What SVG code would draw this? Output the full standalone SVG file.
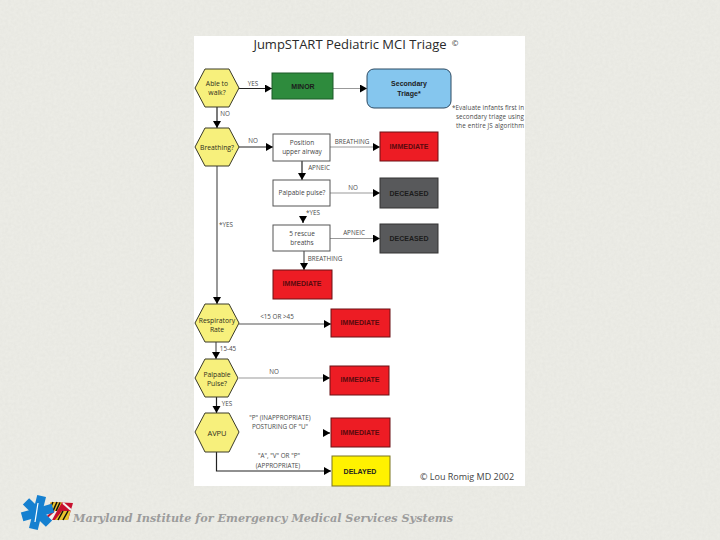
<svg xmlns="http://www.w3.org/2000/svg" width="720" height="540" viewBox="0 0 720 540">
<style>
text{font-family:"Open Sans","Liberation Sans",sans-serif;text-anchor:middle;fill:#333}
.hex{fill:#f7f07c;stroke:#3a3a28;stroke-width:1}
.hl{font-size:6.800px;fill:#2e2e20}
.box{fill:#fff;stroke:#555;stroke-width:1}
.bl{font-size:6.500px;fill:#444}
.lab{font-size:6.300px;fill:#4a4a4a}
.st{font-size:7px;font-weight:700;fill:#1c1c1c;font-family:"Liberation Sans",sans-serif}
.red{fill:#ed1c24;stroke:#6b1015;stroke-width:1}
.red+text{fill:#5a0a0e}
.gray{fill:#58595b;stroke:#333;stroke-width:1}
.c{fill:none;stroke:#555;stroke-width:1.200;marker-end:url(#a)}
.d{fill:none;stroke:#999;stroke-width:1;marker-end:url(#a)}
.k{fill:none;stroke:#222;stroke-width:1.200;marker-end:url(#a)}
</style>
<defs>
<marker id="a" markerUnits="userSpaceOnUse" markerWidth="9" markerHeight="9" refX="7" refY="4" orient="auto"><path d="M0 0L7 4L0 8Z" fill="#000"/></marker>
<filter id="tex" x="0" y="0" width="100%" height="100%"><feTurbulence type="fractalNoise" baseFrequency="0.35" numOctaves="2" seed="4"/><feColorMatrix values="0 0 0 0 0.6 0 0 0 0 0.6 0 0 0 0 0.56 0.5 0 0 0 -0.12"/></filter>
</defs>
<rect width="720" height="540" fill="#ecece6"/>
<rect width="720" height="540" filter="url(#tex)" opacity="0.5"/>
<rect x="194" y="36" width="331" height="450" fill="#fff"/>
<text x="350" y="49" style="font-size:13px;fill:#2a2a2a">JumpSTART Pediatric MCI Triage</text>
<text x="455" y="46" style="font-size:8px;fill:#2a2a2a">©</text>

<g id="connectors">
<path class="k" d="M239 88.500H272"/>
<path class="d" d="M333 88.500H367"/>
<path class="k" d="M217 107V128"/>
<path class="k" d="M239 147H273"/>
<path class="d" d="M330 147H380"/>
<path class="k" d="M302 161V180"/>
<path class="d" d="M330 193H380"/>
<path class="k" d="M303 216V223"/>
<path class="d" d="M330 238.500H380"/>
<path class="c" d="M304 251V270"/>
<path class="c" d="M217 166V304"/>
<path class="c" d="M239 324H331"/>
<path class="c" d="M216 342V359"/>
<path class="d" d="M239 378H330"/>
<path class="k" d="M216.500 397V413"/>
<path class="k" d="M323 433H330"/>
<path class="k" d="M216.500 452V471H331"/>
</g>

<g id="n-walk"><polygon class="hex" points="195,88 205,69 229,69 239,88 229,107 205,107"/><text class="hl" x="217" y="86">Able to</text><text class="hl" x="217" y="95">walk?</text></g>
<g id="n-breathing"><polygon class="hex" points="195,147 205,128 229,128 239,147 229,166 205,166"/><text class="hl" x="217" y="149.500">Breathing?</text></g>
<g id="n-resp"><polygon class="hex" points="195,323 205,304 229,304 239,323 229,342 205,342"/><text class="hl" x="217" y="323">Respiratory</text><text class="hl" x="217" y="332">Rate</text></g>
<g id="n-pulse"><polygon class="hex" points="195,378 205,359 228,359 238,378 228,397 205,397"/><text class="hl" x="217" y="377">Palpable</text><text class="hl" x="217" y="386">Pulse?</text></g>
<g id="n-avpu"><polygon class="hex" points="195,432 205,413 229,413 239,432 229,452 205,452"/><text class="hl" x="217" y="436" style="font-size:7.500px">AVPU</text></g>

<g id="n-minor"><rect x="272" y="73" width="61" height="26" fill="#2e8b3d" stroke="#1d5a28"/><text class="st" x="303" y="89">MINOR</text></g>
<g id="n-secondary"><rect x="367" y="69" width="84" height="39" rx="7" fill="#85c6ee" stroke="#2c4a63"/><text class="st" x="409" y="86">Secondary</text><text class="st" x="409" y="96">Triage*</text></g>
<g id="n-position"><rect class="box" x="273" y="134" width="57" height="27"/><text class="bl" x="302" y="145">Position</text><text class="bl" x="302" y="154">upper airway</text></g>
<g id="n-imm1"><rect class="red" x="380" y="132" width="58" height="29"/><text class="st" x="409" y="149">IMMEDIATE</text></g>
<g id="n-palpable"><rect class="box" x="273" y="180" width="57" height="26"/><text class="bl" x="302" y="195">Palpable pulse?</text></g>
<g id="n-dec1"><rect class="gray" x="380" y="178" width="58" height="30"/><text class="st" x="409" y="195.500">DECEASED</text></g>
<g id="n-rescue"><rect class="box" x="273" y="225" width="57" height="26"/><text class="bl" x="302" y="235.500">5 rescue</text><text class="bl" x="302" y="244.500">breaths</text></g>
<g id="n-dec2"><rect class="gray" x="380" y="224" width="58" height="29"/><text class="st" x="409" y="241">DECEASED</text></g>
<g id="n-imm2"><rect class="red" x="273" y="270" width="59" height="29"/><text class="st" x="302" y="286">IMMEDIATE</text></g>
<g id="n-imm3"><rect class="red" x="331" y="309" width="59" height="28"/><text class="st" x="360" y="325">IMMEDIATE</text></g>
<g id="n-imm4"><rect class="red" x="330" y="366" width="59" height="29"/><text class="st" x="360" y="382">IMMEDIATE</text></g>
<g id="n-imm5"><rect class="red" x="331" y="418" width="59" height="29"/><text class="st" x="360" y="435">IMMEDIATE</text></g>
<g id="n-delayed"><rect x="332" y="456" width="58" height="30" fill="#fff200" stroke="#7a7420"/><text class="st" x="360" y="474" style="fill:#222">DELAYED</text></g>

<g id="labels">
<text class="lab" x="253" y="86">YES</text>
<text class="lab" x="225" y="116">NO</text>
<text class="lab" x="253" y="143">NO</text>
<text class="lab" x="352" y="144">BREATHING</text>
<text class="lab" x="319" y="170">APNEIC</text>
<text class="lab" x="353" y="190">NO</text>
<text class="lab" x="313" y="215">*YES</text>
<text class="lab" x="226" y="227">*YES</text>
<text class="lab" x="354" y="235">APNEIC</text>
<text class="lab" x="325" y="261">BREATHING</text>
<text class="lab" x="277" y="319">&lt;15 OR &gt;45</text>
<text class="lab" x="228" y="351">15-45</text>
<text class="lab" x="274" y="374">NO</text>
<text class="lab" x="227" y="406">YES</text>
<text class="lab" x="280" y="420">"P" (INAPPROPRIATE)</text>
<text class="lab" x="280" y="429">POSTURING OF "U"</text>
<text class="lab" x="279" y="458">"A", "V" OR "P"</text>
<text class="lab" x="278" y="468">(APPROPRIATE)</text>
<text class="lab" x="452" y="110" textLength="72" style="text-anchor:start">*Evaluate infants first in</text>
<text class="lab" x="456" y="119" textLength="68" style="text-anchor:start">secondary triage using</text>
<text class="lab" x="456" y="128" textLength="68" style="text-anchor:start">the entire JS algorithm</text>
<text x="420" y="480" style="font-size:9px;text-anchor:start;fill:#444">© Lou Romig MD 2002</text>
</g>

<g id="logo">
<polygon points="51,502 73,503 68,520 43,520" fill="#c8102e"/>
<polygon points="51,502 62,502.500 57,511 47,511" fill="#e8c42c"/>
<path d="M53 502l-4 9M57 502l-4 9M60 502.500l-4 8.500" stroke="#111" stroke-width="1.500" fill="none"/>
<polygon points="62,511 70.500,511 68,520 55,520" fill="#e8c42c"/>
<path d="M58 520l5-9M63 520l5-9" stroke="#111" stroke-width="1.500" fill="none"/>
<polygon points="46,511 57,511 52,520 43,520" fill="#f2f2f2"/>
<path d="M45 519l9-8" stroke="#c8102e" stroke-width="2"/>
<path d="M63 503l8 7" stroke="#f2f2f2" stroke-width="2"/>
<g transform="translate(37.500 512.500) rotate(14)" fill="#1580d0">
<rect x="-4.500" y="-17" width="9" height="34"/>
<rect x="-4.500" y="-16" width="9" height="32" transform="rotate(60)"/>
<rect x="-4.500" y="-16" width="9" height="32" transform="rotate(120)"/>
</g>
<path d="M38 503L35 522" stroke="#fff" stroke-width="1.200" fill="none"/>
</g>
<text x="73" y="522" style="font-family:'DejaVu Serif','Liberation Serif',serif;font-size:11px;font-weight:700;font-style:italic;fill:#9c9c9c;text-anchor:start" textLength="380" lengthAdjust="spacingAndGlyphs">Maryland Institute for Emergency Medical Services Systems</text>
</svg>
